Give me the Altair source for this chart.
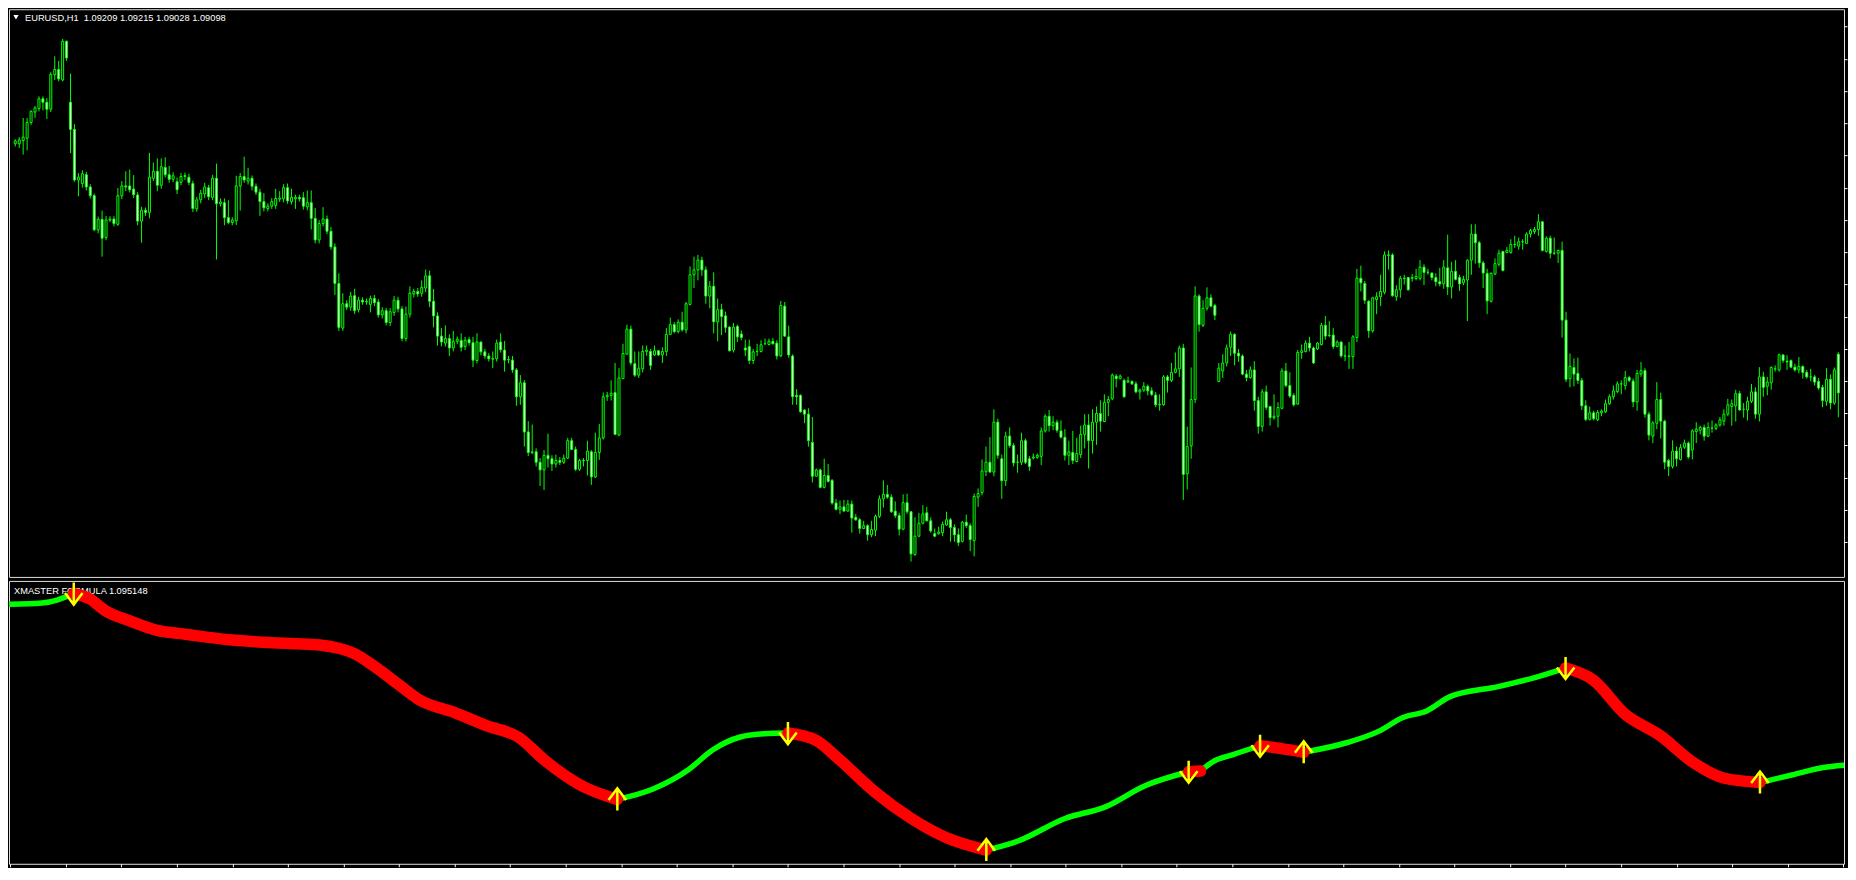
import altair as alt
import pandas as pd

# ---------------- EURUSD H1 candles (prices in points, 1 point = 0.00001) ----------------
open_pts = [
    109813, 109813, 109822, 109829, 109874, 109904, 109914, 109942, 109932, 109912,
    110011, 110026, 109996, 110107, 109932, 109854, 109709, 109699, 109724, 109689,
    109664, 109566, 109596, 109544, 109594, 109597, 109582, 109664, 109692, 109692,
    109683, 109666, 109591, 109622, 109616, 109714, 109734, 109694, 109745, 109724,
    109711, 109704, 109702, 109719, 109717, 109699, 109626, 109652, 109669, 109687,
    109659, 109714, 109641, 109644, 109601, 109587, 109592, 109692, 109719, 109706,
    109714, 109691, 109674, 109647, 109627, 109634, 109636, 109654, 109655, 109687,
    109647, 109655, 109659, 109658, 109632, 109644, 109599, 109537, 109584, 109597,
    109562, 109517, 109412, 109284, 109354, 109344, 109377, 109337, 109364, 109359,
    109352, 109369, 109359, 109322, 109334, 109300, 109329, 109364, 109339, 109254,
    109324, 109382, 109389, 109384, 109399, 109434, 109361, 109319, 109261, 109241,
    109254, 109227, 109246, 109249, 109231, 109251, 109242, 109191, 109244, 109216,
    109204, 109196, 109196, 109244, 109221, 109193, 109192, 109164, 109087, 109127,
    108986, 108927, 108929, 108899, 108877, 108919, 108909, 108894, 108904, 108899,
    108911, 108961, 108936, 108879, 108904, 108904, 108929, 108857, 108927, 108969,
    109087, 109091, 109099, 108977, 109139, 109209, 109281, 109182, 109149, 109167,
    109217, 109217, 109207, 109219, 109207, 109217, 109266, 109294, 109274, 109301,
    109279, 109352, 109437, 109451, 109479, 109451, 109376, 109404, 109302, 109337,
    109319, 109287, 109221, 109289, 109267, 109227, 109231, 109191, 109217, 109217,
    109239, 109237, 109246, 109241, 109204, 109347, 109259, 109204, 109091, 109091,
    109049, 109037, 108956, 108859, 108877, 108827, 108861, 108847, 108782, 108764,
    108771, 108759, 108779, 108741, 108734, 108709, 108717, 108691, 108704, 108744,
    108794, 108807, 108799, 108759, 108746, 108707, 108783, 108757, 108634, 108687,
    108724, 108754, 108731, 108694, 108694, 108697, 108719, 108734, 108712, 108691,
    108672, 108727, 108717, 108674, 108799, 108812, 108872, 108899, 108871, 109014,
    108909, 108846, 108974, 108947, 108899, 108899, 108961, 108909, 108911, 108913,
    108916, 108989, 109031, 109004, 109014, 108989, 108971, 108919, 108927, 108901,
    108921, 108979, 109006, 108961, 109014, 109039, 109016, 109071, 109081, 109146,
    109139, 109134, 109129, 109131, 109124, 109101, 109106, 109117, 109104, 109092,
    109064, 109064, 109144, 109134, 109157, 109167, 109227, 108866, 108946, 109079,
    109376, 109292, 109341, 109371, 109349, 109131, 109161, 109184, 109229, 109266,
    109212, 109204, 109152, 109142, 109164, 109076, 109002, 109101, 109059, 109027,
    109031, 109054, 109161, 109119, 109091, 109066, 109214, 109217, 109241, 109227,
    109224, 109237, 109292, 109263, 109264, 109231, 109244, 109204, 109204, 109202,
    109257, 109427, 109412, 109361, 109276, 109366, 109374, 109387, 109494, 109494,
    109374, 109394, 109427, 109429, 109427, 109426, 109427, 109459, 109444, 109442,
    109429, 109417, 109411, 109457, 109402, 109447, 109429, 109414, 109422, 109479,
    109554, 109529, 109471, 109441, 109361, 109439, 109467, 109504, 109501, 109501,
    109524, 109519, 109532, 109527, 109554, 109561, 109567, 109589, 109504, 109542,
    109499, 109499, 109507, 109307, 109139, 109171, 109154, 109134, 109061, 109022,
    109041, 109021, 109041, 109044, 109067, 109087, 109102, 109124, 109119, 109142,
    109132, 109072, 109152, 109162, 109037, 108974, 109011, 109079, 109017, 108904,
    108887, 108931, 108907, 108942, 108954, 108934, 108987, 108991, 108999, 108974,
    108997, 108996, 109006, 109017, 109037, 109059, 109061, 109096, 109051, 109049,
    109074, 109101, 109037, 109144, 109117, 109127, 109167, 109164, 109207, 109189,
    109191, 109172, 109164, 109174, 109157, 109144, 109144, 109131, 109114, 109074,
    109137, 109069, 109209,
]

close_pts = [
    109821, 109824, 109832, 109874, 109906, 109916, 109942, 109932, 109912, 110012,
    110026, 109999, 110107, 110059, 109854, 109709, 109717, 109727, 109689, 109664,
    109566, 109596, 109542, 109594, 109597, 109584, 109664, 109692, 109689, 109681,
    109667, 109591, 109622, 109616, 109717, 109734, 109694, 109747, 109724, 109711,
    109721, 109681, 109719, 109722, 109702, 109627, 109652, 109671, 109689, 109661,
    109714, 109641, 109646, 109601, 109587, 109594, 109692, 109719, 109709, 109714,
    109691, 109674, 109647, 109629, 109634, 109647, 109656, 109657, 109687, 109649,
    109659, 109659, 109655, 109634, 109644, 109599, 109537, 109584, 109597, 109562,
    109517, 109412, 109286, 109354, 109344, 109376, 109334, 109364, 109359, 109361,
    109369, 109357, 109322, 109334, 109300, 109331, 109364, 109339, 109254, 109324,
    109384, 109389, 109382, 109401, 109434, 109361, 109319, 109261, 109244, 109254,
    109227, 109246, 109252, 109229, 109249, 109242, 109192, 109244, 109216, 109204,
    109196, 109195, 109241, 109222, 109192, 109194, 109164, 109087, 109127, 108986,
    108927, 108929, 108899, 108877, 108919, 108909, 108894, 108904, 108899, 108911,
    108961, 108936, 108879, 108904, 108903, 108931, 108857, 108927, 108969, 109087,
    109091, 109097, 108979, 109141, 109211, 109281, 109184, 109149, 109169, 109217,
    109221, 109177, 109219, 109207, 109217, 109266, 109294, 109274, 109301, 109279,
    109354, 109437, 109451, 109479, 109451, 109376, 109404, 109302, 109337, 109317,
    109286, 109219, 109287, 109259, 109257, 109221, 109191, 109216, 109217, 109236,
    109239, 109246, 109239, 109204, 109349, 109261, 109207, 109087, 109087, 109044,
    109037, 108961, 108859, 108877, 108827, 108861, 108844, 108782, 108764, 108771,
    108759, 108779, 108739, 108734, 108709, 108717, 108691, 108706, 108744, 108794,
    108807, 108799, 108757, 108746, 108707, 108783, 108757, 108636, 108687, 108724,
    108751, 108731, 108702, 108687, 108699, 108721, 108734, 108712, 108691, 108669,
    108727, 108717, 108677, 108801, 108809, 108874, 108899, 108871, 109014, 108919,
    108846, 108974, 108947, 108897, 108899, 108961, 108899, 108887, 108914, 108919,
    108989, 109031, 109004, 109014, 108991, 108971, 108919, 108929, 108904, 108924,
    108979, 109006, 108961, 109014, 109039, 109017, 109071, 109079, 109149, 109139,
    109146, 109087, 109133, 109124, 109101, 109106, 109117, 109104, 109094, 109064,
    109066, 109144, 109134, 109157, 109167, 109227, 108864, 108944, 109079, 109376,
    109294, 109341, 109371, 109347, 109321, 109169, 109184, 109227, 109266, 109212,
    109204, 109152, 109142, 109164, 109076, 109002, 109101, 109056, 109027, 109031,
    109056, 109161, 109119, 109089, 109064, 109214, 109219, 109241, 109227, 109184,
    109241, 109292, 109261, 109264, 109231, 109244, 109204, 109204, 109203, 109259,
    109427, 109414, 109364, 109276, 109371, 109374, 109389, 109494, 109493, 109377,
    109394, 109427, 109426, 109394, 109429, 109432, 109459, 109444, 109444, 109429,
    109417, 109411, 109459, 109402, 109447, 109424, 109411, 109424, 109479, 109554,
    109529, 109471, 109442, 109362, 109441, 109469, 109499, 109449, 109507, 109524,
    109524, 109532, 109532, 109554, 109564, 109567, 109589, 109507, 109542, 109499,
    109499, 109507, 109307, 109137, 109174, 109152, 109134, 109061, 109022, 109041,
    109024, 109042, 109046, 109067, 109087, 109104, 109124, 109124, 109142, 109134,
    109072, 109154, 109162, 109037, 108977, 109012, 109079, 109017, 108899, 108887,
    108931, 108909, 108941, 108954, 108914, 108989, 108994, 108999, 108974, 108999,
    108997, 109006, 109021, 109037, 109064, 109067, 109096, 109049, 109051, 109074,
    109101, 109037, 109144, 109114, 109129, 109171, 109167, 109207, 109191, 109187,
    109172, 109164, 109174, 109157, 109144, 109144, 109129, 109112, 109076, 109137,
    109069, 109164, 109098,
]

# wick lengths above the body top / below the body bottom, in points
upper_wick = [
    5, 8, 55, 13, 3, 5, 7, 7, 12, 7,
    38, 25, 7, 2, 82, 15, 12, 10, 8, 8,
    6, 8, 25, 12, 8, 8, 22, 14, 42, 47,
    40, 8, 10, 8, 70, 25, 37, 24, 29, 25,
    10, 12, 10, 8, 10, 8, 8, 10, 12, 8,
    10, 42, 10, 12, 50, 8, 29, 10, 57, 30,
    8, 8, 10, 24, 8, 10, 28, 20, 10, 12,
    25, 8, 8, 16, 35, 35, 30, 10, 34, 10,
    12, 10, 29, 30, 10, 12, 20, 10, 8, 8,
    8, 10, 8, 10, 8, 10, 12, 10, 8, 22,
    20, 8, 10, 20, 18, 15, 35, 10, 23, 38,
    12, 30, 8, 20, 10, 8, 17, 25, 2, 8,
    8, 21, 10, 25, 26, 10, 12, 5, 22, 8,
    31, 78, 10, 12, 15, 62, 10, 17, 10, 10,
    8, 8, 8, 5, 7, 30, 5, 57, 40, 12,
    10, 37, 85, 28, 28, 13, 10, 35, 48, 17,
    13, 7, 15, 2, 12, 18, 20, 7, 8, 30,
    5, 24, 38, 15, 10, 10, 15, 40, 32, 17,
    12, 2, 12, 5, 10, 24, 20, 8, 22, 13,
    15, 8, 10, 8, 13, 12, 32, 5, 18, 3,
    2, 17, 73, 4, 4, 48, 33, 4, 12, 18,
    20, 12, 10, 10, 5, 14, 4, 25, 5, 10,
    40, 27, 8, 28, 8, 24, 26, 2, 54, 30,
    25, 17, 10, 15, 15, 8, 23, 5, 9, 18,
    4, 22, 7, 8, 15, 33, 45, 72, 37, 10,
    12, 13, 25, 7, 22, 23, 6, 8, 10, 5,
    10, 6, 18, 17, 7, 30, 23, 32, 62, 45,
    25, 31, 31, 37, 20, 38, 23, 10, 5, 6,
    5, 5, 12, 3, 7, 5, 12, 5, 10, 9,
    28, 5, 5, 27, 47, 7, 12, 57, 92, 28,
    5, 23, 30, 10, 5, 15, 25, 10, 8, 3,
    12, 5, 12, 10, 25, 11, 8, 18, 2, 63,
    15, 8, 23, 38, 6, 7, 18, 8, 18, 4,
    3, 7, 27, 40, 20, 5, 2, 30, 40, 5,
    27, 36, 7, 3, 3, 13, 48, 10, 13, 5,
    13, 7, 10, 2, 10, 22, 20, 8, 10, 2,
    12, 40, 20, 95, 27, 32, 8, 10, 2, 28,
    28, 5, 6, 13, 3, 15, 10, 2, 10, 15,
    25, 12, 7, 5, 5, 7, 22, 2, 5, 7,
    45, 2, 25, 24, 37, 26, 45, 7, 16, 18,
    6, 7, 5, 12, 7, 15, 7, 10, 19, 5,
    7, 10, 25, 7, 7, 5, 50, 20, 4, 5,
    31, 13, 10, 10, 5, 5, 20, 5, 8, 15,
    22, 5, 8, 14, 17, 12, 11, 8, 18, 13,
    23, 13, 28, 15, 15, 3, 10, 4, 2, 17,
    3, 10, 27, 3, 7, 23, 5, 10, 7, 32,
    14, 7, 6,
]

lower_wick = [
    8, 12, 40, 35, 7, 17, 8, 23, 28, 8,
    15, 7, 4, 8, 68, 5, 47, 12, 10, 8,
    4, 10, 53, 8, 6, 8, 5, 10, 12, 8,
    10, 12, 62, 10, 17, 8, 17, 10, 8, 10,
    8, 12, 8, 10, 8, 10, 8, 10, 12, 10,
    8, 160, 8, 22, 5, 8, 12, 71, 8, 10,
    12, 8, 41, 10, 8, 8, 10, 8, 10, 8,
    8, 29, 8, 10, 10, 32, 10, 10, 8, 8,
    8, 33, 10, 8, 8, 10, 10, 8, 8, 8,
    23, 10, 8, 10, 8, 10, 10, 10, 8, 8,
    10, 10, 8, 10, 12, 17, 33, 27, 12, 10,
    23, 10, 8, 12, 10, 8, 20, 8, 10, 8,
    8, 26, 8, 8, 33, 10, 8, 26, 23, 42,
    10, 5, 12, 46, 58, 25, 20, 10, 8, 5,
    2, 2, 5, 5, 16, 43, 23, 3, 21, 5,
    12, 15, 2, 3, 0, 0, 7, 5, 8, 10,
    12, 13, 3, 3, 23, 13, 2, 5, 5, 5,
    10, 3, 38, 30, 17, 22, 35, 33, 56, 53,
    15, 2, 7, 15, 8, 17, 10, 10, 13, 3,
    2, 3, 2, 10, 3, 2, 8, 23, 23, 3,
    26, 17, 18, 0, 3, 3, 3, 5, 3, 14,
    2, 2, 42, 3, 15, 2, 17, 7, 17, 5,
    25, 5, 3, 7, 18, 3, 6, 22, 3, 3,
    3, 2, 5, 3, 3, 10, 2, 41, 20, 10,
    3, 6, 33, 45, 28, 8, 13, 2, 12, 10,
    52, 15, 6, 10, 30, 8, 5, 13, 4, 4,
    25, 5, 17, 13, 7, 4, 15, 28, 10, 2,
    10, 40, 80, 37, 65, 30, 2, 40, 4, 25,
    2, 3, 2, 3, 4, 22, 5, 13, 5, 7,
    17, 3, 35, 5, 3, 23, 73, 45, 37, 10,
    20, 5, 7, 3, 14, 2, 20, 10, 25, 35,
    17, 3, 11, 3, 29, 21, 15, 7, 23, 6,
    32, 3, 5, 5, 5, 2, 18, 3, 10, 3,
    3, 3, 10, 5, 7, 2, 5, 15, 36, 35,
    13, 25, 10, 20, 5, 42, 27, 6, 41, 3,
    12, 23, 17, 3, 10, 5, 6, 37, 7, 8,
    13, 7, 14, 23, 33, 3, 20, 7, 118, 42,
    60, 14, 43, 38, 4, 2, 6, 2, 2, 4,
    10, 10, 23, 0, 10, 7, 18, 3, 3, 15,
    5, 28, 50, 8, 25, 35, 10, 12, 5, 3,
    5, 4, 10, 3, 3, 8, 5, 30, 12, 5,
    15, 25, 8, 10, 15, 20, 17, 50, 20, 28,
    6, 22, 3, 5, 5, 27, 33, 12, 13, 3,
    13, 5, 5, 13, 6, 55, 45, 2, 24, 30,
    5, 13, 21, 27, 26, 20, 8, 5, 7, 23,
    3, 5, 10, 18, 5, 13, 10, 5, 19, 13,
    18, 5, 70,
]

# ---------------- XMASTER FORMULA indicator (knots, points) ----------------
ind_bar = [0, 8, 12, 16, 20, 24, 30, 37, 43, 49, 56, 66, 72, 78, 83, 87, 92, 98, 103, 112,
           120, 128, 135, 144, 153, 162, 171, 177, 184, 190, 196, 203, 209, 218, 227, 236,
           246, 254, 266, 276, 286, 297, 300, 303, 308, 315, 320, 326, 337, 345, 351, 357,
           363, 375, 384, 392, 399, 407, 416, 424, 432, 441, 449, 457, 462]
ind_pts = [110010, 110014, 110024, 110043, 110027, 109990, 109960, 109930, 109920, 109910,
           109900, 109892, 109889, 109885, 109874, 109857, 109817, 109762, 109717, 109677,
           109637, 109602, 109527, 109452, 109410, 109442, 109502, 109562, 109602, 109612,
           109614, 109592, 109532, 109432, 109352, 109292, 109254, 109282, 109352, 109387,
           109452, 109495, 109497, 109525, 109547, 109575, 109567, 109555, 109585, 109620,
           109662, 109682, 109727, 109757, 109784, 109814, 109777, 109672, 109605, 109525,
           109475, 109462, 109485, 109508, 109515]
seg_bounds = [0, 16, 153, 196, 246, 297, 300, 315, 326, 392, 441, 462]
seg_colors = ["green", "red", "green", "red", "green", "red",
              "green", "red", "green", "red", "green"]
arrow_down_bars = [16, 196, 297, 315, 392]
arrow_up_bars = [153, 246, 326, 441]

price_tick_pts = [110149, 110057, 109964, 109872, 109779, 109687, 109595, 109502, 109410,
                  109317, 109225, 109133, 109040, 108948, 108855, 108763, 108671]
bar_ticks = [0, 14, 28, 42, 56, 70, 84, 98, 112, 126, 140, 154, 168, 182, 196, 210, 224,
             238, 252, 266, 280, 294, 308, 322, 336, 350, 364, 378, 392, 406, 420, 434,
             448, 462]

main_title = "EURUSD,H1\u00a0 1.09209 1.09215 1.09028 1.09098"
ind_title = "XMASTER FORMULA 1.095148"

PT = 1e-5
LIME = "#00ff00"
RED = "#ff0000"
YELLOW = "#ffff00"
FONT = "Liberation Sans"
W = 1836
H_MAIN = 568
H_IND = 283

# ---------------- tables ----------------
n = min(len(open_pts), len(close_pts), len(upper_wick), len(lower_wick))
rows = []
for i in range(n):
    o, c = open_pts[i], close_pts[i]
    rows.append({
        "bar": i,
        "open": o * PT,
        "close": c * PT,
        "high": (max(o, c) + upper_wick[i]) * PT,
        "low": (min(o, c) - lower_wick[i]) * PT,
        "kind": "bear" if c < o else "bull",
    })
candles = pd.DataFrame(rows)

seg_rows = []
for k, col in enumerate(seg_colors):
    a, b = seg_bounds[k], seg_bounds[k + 1]
    for bi, v in zip(ind_bar, ind_pts):
        if a <= bi <= b:
            seg_rows.append({"bar": bi, "val": v * PT, "seg": k, "col": col})
ind_df = pd.DataFrame(seg_rows)

ind_map = dict(zip(ind_bar, ind_pts))
arrow_rows = [{"bar": b, "val": ind_map[b] * PT, "dir": "down"} for b in arrow_down_bars]
arrow_rows += [{"bar": b, "val": ind_map[b] * PT, "dir": "up"} for b in arrow_up_bars]
arrow_df = pd.DataFrame(arrow_rows)

# ---------------- scales / axes ----------------
xs = alt.Scale(domain=[-0.325, 462.175], nice=False, zero=False)
ys_main = alt.Scale(domain=[1.08570, 1.10199], nice=False, zero=False)
ys_ind = alt.Scale(domain=[1.09212, 1.10082], nice=False, zero=False)

yaxis_main = alt.Axis(orient="right", values=[p * PT for p in price_tick_pts], labels=False,
                      ticks=True, tickSize=3, tickColor="white", tickWidth=1,
                      domain=False, grid=False, title=None)
xaxis_ind = alt.Axis(values=bar_ticks, labels=False, ticks=True, tickSize=3,
                     tickColor="white", tickWidth=1, domain=False, grid=False, title=None)

# ---------------- main price panel ----------------
wicks = alt.Chart(candles).mark_rule(color=LIME, strokeWidth=1, clip=True).encode(
    x=alt.X("bar:Q", scale=xs, axis=None),
    y=alt.Y("low:Q", scale=ys_main, axis=yaxis_main),
    y2="high:Q",
)
bodies = alt.Chart(candles).mark_bar(size=2, stroke=LIME, strokeWidth=1, opacity=1,
                                     clip=True).encode(
    x=alt.X("bar:Q", scale=xs, axis=None),
    y=alt.Y("open:Q", scale=ys_main, axis=yaxis_main),
    y2="close:Q",
    fill=alt.Fill("kind:N", scale=alt.Scale(domain=["bear", "bull"], range=["white", "black"]),
                  legend=None),
)
label_df = pd.DataFrame({"t": [main_title]})
tri = alt.Chart(label_df).mark_point(shape="triangle-down", filled=True, size=28,
                                     color="white", opacity=1, clip=True).encode(
    x=alt.value(7), y=alt.value(8))
main_text = alt.Chart(label_df).mark_text(align="left", baseline="alphabetic", color="white",
                                          fontSize=9.3, font=FONT, clip=True).encode(
    x=alt.value(16), y=alt.value(12), text="t:N")

main = alt.layer(wicks, bodies, tri, main_text).properties(width=W, height=H_MAIN)

# ---------------- indicator panel ----------------
ind_label_df = pd.DataFrame({"t": [ind_title]})
ind_text = alt.Chart(ind_label_df).mark_text(align="left", baseline="alphabetic", color="white",
                                             fontSize=9.3, font=FONT, clip=True).encode(
    x=alt.value(5), y=alt.value(13), text="t:N")

green_line = alt.Chart(ind_df).transform_filter("datum.col == 'green'").mark_line(
    color=LIME, strokeWidth=5.5, interpolate="monotone", strokeCap="round", clip=True).encode(
    x=alt.X("bar:Q", scale=xs, axis=xaxis_ind),
    y=alt.Y("val:Q", scale=ys_ind, axis=None),
    detail="seg:N",
)
red_line = alt.Chart(ind_df).transform_filter("datum.col == 'red'").mark_line(
    color=RED, strokeWidth=11.5, interpolate="monotone", strokeCap="round", clip=True).encode(
    x=alt.X("bar:Q", scale=xs, axis=xaxis_ind),
    y=alt.Y("val:Q", scale=ys_ind, axis=None),
    detail="seg:N",
)
DOWN = "M0,-1L0,1M-0.8,-0.05L0,1L0.8,-0.05"
UP = "M0,1L0,-1M-0.8,0.05L0,-1L0.8,0.05"
arrows = alt.Chart(arrow_df).mark_point(filled=False, color=YELLOW, strokeWidth=2.5,
                                        size=484, opacity=1, clip=True).encode(
    x=alt.X("bar:Q", scale=xs, axis=xaxis_ind),
    y=alt.Y("val:Q", scale=ys_ind, axis=None),
    shape=alt.Shape("dir:N", scale=alt.Scale(domain=["down", "up"], range=[DOWN, UP]),
                    legend=None),
)

ind = alt.layer(ind_text, green_line, red_line, arrows).properties(width=W, height=H_IND)

chart = alt.vconcat(main, ind, spacing=2, padding=0, background="black").resolve_scale(
    x="independent", y="independent"
).configure_view(
    stroke="white", strokeWidth=1, fill="black"
).configure(font=FONT)

chart.save("out.html", embed_options={"renderer": "svg", "actions": False})
